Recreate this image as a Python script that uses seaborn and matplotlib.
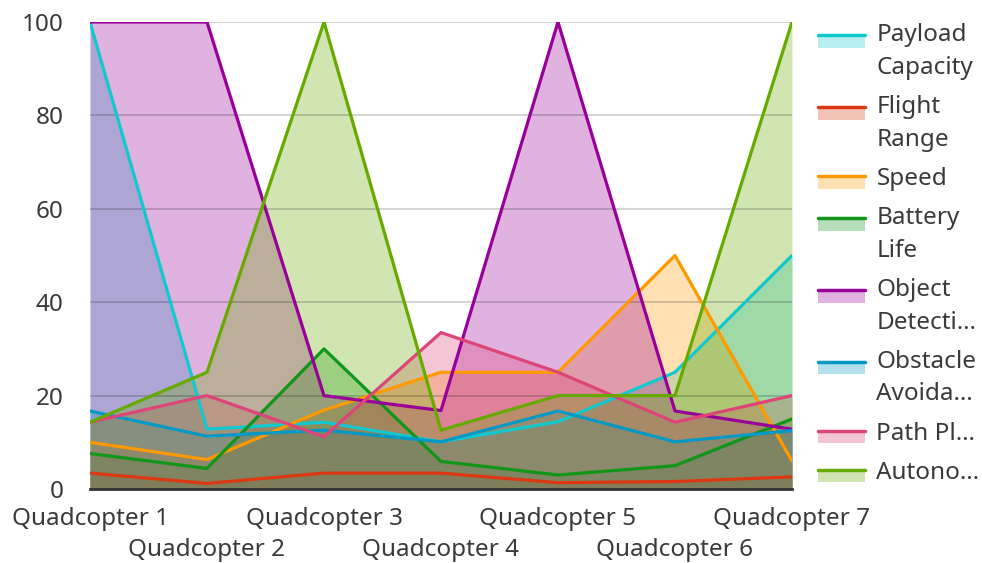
import numpy as np
import pandas as pd
import seaborn as sns
import matplotlib.pyplot as plt
from matplotlib.legend_handler import HandlerBase
from matplotlib.lines import Line2D
from matplotlib.patches import Rectangle

# data
categories = ['Quadcopter 1', 'Quadcopter 2', 'Quadcopter 3', 'Quadcopter 4',
              'Quadcopter 5', 'Quadcopter 6', 'Quadcopter 7']
payload = [100, 12.8, 14.3, 10.1, 14.4, 25, 50]
flight_range = [3.4, 1.2, 3.4, 3.4, 1.35, 1.6, 2.6]
speed = [10, 6.3, 16.9, 25, 25, 50, 6]
battery = [7.6, 4.4, 30, 5.9, 3, 5, 15]
object_detection = [100, 100, 20, 16.8, 100, 16.7, 12.8]
obstacle_avoidance = [16.7, 11.3, 12.6, 10.1, 16.7, 10.1, 12.5]
path_planning = [14.3, 20, 11.2, 33.5, 25, 14.3, 20]
autonomy = [14.3, 25, 100, 12.6, 20, 20, 100]

series_names = ['Payload Capacity', 'Flight Range', 'Speed', 'Battery Life',
                'Object Detection', 'Obstacle Avoidance', 'Path Planning', 'Autonomy']
legend_labels = ['Payload\nCapacity', 'Flight\nRange', 'Speed', 'Battery\nLife',
                 'Object\nDetecti…', 'Obstacle\nAvoida…', 'Path Pl…', 'Autono…']
colors = ['#12c8cf', '#dc3912', '#ff9900', '#109618',
          '#990099', '#0099c6', '#dd4477', '#66aa00']
values = [payload, flight_range, speed, battery, object_detection,
          obstacle_avoidance, path_planning, autonomy]

rows = []
for name, vals in zip(series_names, values):
    for i, v in enumerate(vals):
        rows.append({'series': name, 'x': i, 'value': v})
df = pd.DataFrame(rows)

sns.set_style('white')
plt.rcParams['font.family'] = ['Noto Sans', 'DejaVu Sans']
FS = 17.5
TXT = '#3a3a3a'

fig = plt.figure(figsize=(9.82, 5.63), dpi=100)
ax = fig.add_axes([90 / 982, 1 - 489 / 563, (792 - 90) / 982, (489 - 22) / 563])

for name, col in zip(series_names, colors):
    sub = df[df['series'] == name]
    ax.fill_between(sub['x'], 0, sub['value'], color=col, alpha=0.3, linewidth=0, zorder=1)

sns.lineplot(data=df, x='x', y='value', hue='series', palette=dict(zip(series_names, colors)),
             linewidth=2.3, legend=False, ax=ax, sort=False, zorder=3)

ax.set_xlim(0, len(categories) - 1)
ax.set_ylim(0, 100)
ax.set_yticks([0, 20, 40, 60, 80, 100])
ax.set_xticks(range(len(categories)))
ax.set_xticklabels([c if i % 2 == 0 else '\n' + c for i, c in enumerate(categories)])
ax.set_xlabel('')
ax.set_ylabel('')
ax.grid(axis='y', color='black', alpha=0.2, linewidth=1.2)
ax.set_axisbelow('line')
ax.tick_params(axis='both', length=0, labelsize=FS, colors=TXT)
ax.tick_params(axis='y', pad=19)
ax.tick_params(axis='x', pad=13)
for lab in ax.get_xticklabels():
    lab.set_linespacing(1.4)
for s in ['top', 'right', 'left']:
    ax.spines[s].set_visible(False)
ax.spines['bottom'].set_color('#333333')
ax.spines['bottom'].set_linewidth(2)
ax.spines['bottom'].set_zorder(4)

PITCH = 33 * 0.72   # line pitch of legend labels, in points
BOX_H = 12.5 * 0.72


class AreaHandler(HandlerBase):
    def create_artists(self, legend, orig_handle, xdescent, ydescent, width, height, fontsize, trans):
        col = orig_handle.get_color()
        nlines = orig_handle.nlines
        centre = -ydescent + height / 2
        top = centre + (nlines - 1) * PITCH / 2
        rect = Rectangle((-xdescent, top - BOX_H), width, BOX_H, facecolor=col, alpha=0.3,
                         edgecolor='none', transform=trans)
        line = Line2D([-xdescent, -xdescent + width], [top, top], color=col,
                      linewidth=2.5, transform=trans)
        return [rect, line]


proxies = []
for c, lab in zip(colors, legend_labels):
    p = Line2D([], [], color=c)
    p.nlines = lab.count('\n') + 1
    proxies.append(p)
leg = fig.legend(proxies, legend_labels, handler_map={Line2D: AreaHandler()},
                 loc='upper left', bbox_to_anchor=(818 / 982, 1 - 23 / 563),
                 frameon=False, fontsize=FS, handlelength=1.95, handleheight=0.55,
                 handletextpad=0.45, labelspacing=0.62, borderpad=0, borderaxespad=0)
for t in leg.get_texts():
    t.set_color(TXT)
    t.set_linespacing(1.49)

fig.savefig('out.png', dpi=100)
